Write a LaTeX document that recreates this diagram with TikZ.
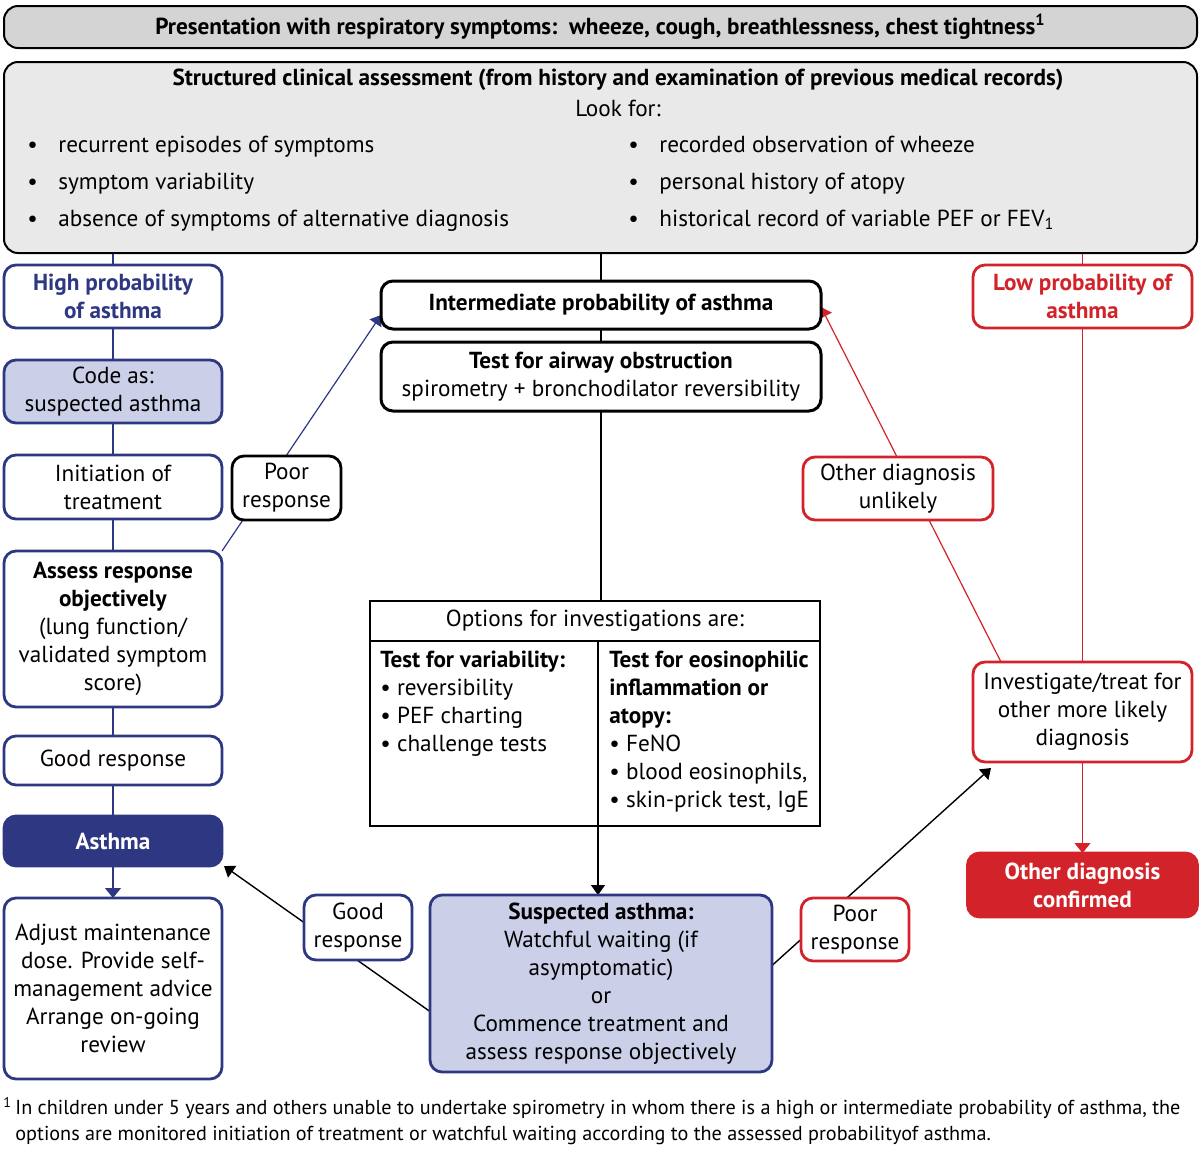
\documentclass[tikz,border=0pt]{standalone}
\usepackage{fontspec}
\setmainfont{PT Sans}
\usetikzlibrary{arrows.meta, positioning, backgrounds}

\definecolor{asthmanavy}{RGB}{46,56,130}
\definecolor{suspectblue}{RGB}{203,207,232}
\definecolor{lowred}{RGB}{210,35,42}
\definecolor{topgray}{RGB}{212,212,212}
\definecolor{assessgray}{RGB}{233,233,233}

\begin{document}
\begin{tikzpicture}[x=0.5pt, y=-0.5pt, node distance=16pt, font=\fontsize{11.6}{14}\selectfont]
    \tikzset{graybox/.style = {rectangle, draw, line width=1pt, rounded corners=7pt, minimum width=596.5pt, outer sep=0pt}}
    \tikzset{navybox/.style = {rectangle, draw=asthmanavy, line width=1.4pt, rounded corners=6pt, fill=white, align=center, inner sep=2pt, outer sep=0pt, minimum width=109pt}}
    \tikzset{blackbox/.style = {navybox, draw=black}}
    \tikzset{redbox/.style = {navybox, draw=lowred}}
    \tikzset{cell/.style = {rectangle, draw, line width=1.1pt, inner sep=0pt, outer sep=0pt}}
    \tikzset{listitem/.style = {anchor=base west, inner sep=0pt}}
    \tikzset{navyline/.style = {draw=asthmanavy, line width=0.6pt}}
    \tikzset{blackline/.style = {draw=black, line width=0.7pt}}
    \tikzset{redline/.style = {draw=lowred, line width=0.6pt}}
    \tikzset{tip/.style = {-{Triangle[width=7pt, length=5pt]}}}

    \useasboundingbox (0,0) rectangle (1200,1148);

    % Top boxes
    \node [graybox, fill=topgray, minimum height=21pt] (present) at (600.5,27)
        {\bfseries Presentation with respiratory symptoms:\ \ wheeze, cough, breathlessness, chest tightness\textsuperscript{1}};
    \node [graybox, fill=assessgray, minimum height=95.5pt] (assessment) at (600.5,157.5) {};
    \node (sctitle) at (618,80) {\bfseries Structured clinical assessment (from history and examination of previous medical records)};
    \node (lookfor) at (618,108) {Look for:};
    \node [listitem] (lookA) at (27,152) {\makebox[15.5pt][l]{\textbullet}recurrent episodes of symptoms};
    \node [listitem] (lookB) at (27,189) {\makebox[15.5pt][l]{\textbullet}symptom variability};
    \node [listitem] (lookC) at (27,226) {\makebox[15.5pt][l]{\textbullet}absence of symptoms of alternative diagnosis};
    \node [listitem] (lookD) at (628,152) {\makebox[15.5pt][l]{\textbullet}recorded observation of wheeze};
    \node [listitem] (lookE) at (628,189) {\makebox[15.5pt][l]{\textbullet}personal history of atopy};
    \node [listitem] (lookF) at (628,226) {\makebox[15.5pt][l]{\textbullet}historical record of variable PEF or FEV\textsubscript{1}};

    % High probability column
    \node [navybox, minimum height=31.5pt, text=asthmanavy, font=\fontsize{11.6}{14}\selectfont\bfseries] (high) at (113,296.5) {High probability\\of asthma};
    \node [navybox, fill=suspectblue, minimum height=31.5pt, below=of high] (code) {Code as:\\suspected asthma};
    \node [navybox, minimum height=32pt, below=of code] (init) {Initiation of\\treatment};
    \node [navybox, minimum height=78pt, below=of init] (response) {\textbf{Assess response}\\\textbf{objectively}\\(lung function/\\validated symptom\\score)};
    \node [navybox, minimum height=24.5pt, below=14.5pt of response] (goodL) {Good response};
    \node [navybox, fill=asthmanavy, text=white, minimum height=25pt, below=15.5pt of goodL, font=\fontsize{11.6}{14}\selectfont\bfseries] (asthma) {Asthma};
    \node [navybox, minimum height=90.5pt, below=of asthma] (adjust) {Adjust maintenance\\dose. Provide self-\\management advice\\Arrange on-going\\review};
    \node [blackbox, minimum width=54.5pt, minimum height=32pt] (poorL) at (286.5,488) {Poor\\response};

    % Intermediate probability column
    \node [blackbox, line width=1.5pt, minimum width=220pt, minimum height=24pt, font=\fontsize{11.6}{14}\selectfont\bfseries] (inter) at (601,305) {Intermediate probability of asthma};
    \node [blackbox, line width=1.5pt, minimum width=220pt, minimum height=34.5pt, below=6.5pt of inter] (airway) {\textbf{Test for airway obstruction}\\spirometry + bronchodilator reversibility};
    \node [cell, minimum width=225pt, minimum height=20pt] (opthead) at (595,621) {Options for investigations are:};
    \node [cell, minimum width=114pt, minimum height=92.5pt, anchor=north west] (optleft) at (370,641) {};
    \node [cell, minimum width=111pt, minimum height=92.5pt, anchor=north west] (optright) at (598,641) {};
    \node [anchor=north west, align=left, inner sep=0pt] (varitext) at (380,651)
        {\textbf{Test for variability:}\\\textbullet\ reversibility\\\textbullet\ PEF charting\\\textbullet\ challenge tests};
    \node [anchor=north west, align=left, inner sep=0pt] (eositext) at (609,651)
        {\textbf{Test for eosinophilic}\\\textbf{inflammation or}\\\textbf{atopy:}\\\textbullet\ FeNO\\\textbullet\ blood eosinophils,\\\textbullet\ skin-prick test, IgE};
    \node [navybox, fill=suspectblue, minimum width=171pt, minimum height=88.5pt] (suspected) at (601,983.5)
        {\textbf{Suspected asthma:}\\Watchful waiting (if\\asymptomatic)\\or\\Commence treatment and\\assess response objectively};
    \node [navybox, minimum width=54pt, minimum height=32.5pt] (goodC) at (358,927.5) {Good\\response};
    \node [redbox, minimum width=54pt, minimum height=31.5pt] (poorR) at (855,929.5) {Poor\\response};

    % Low probability column
    \node [redbox, minimum width=109.5pt, minimum height=31.5pt, text=lowred, font=\fontsize{11.6}{14}\selectfont\bfseries] (low) at (1082.5,296.5) {Low probability of\\asthma};
    \node [redbox, minimum width=95pt, minimum height=31.5pt] (unlikely) at (898,488.5) {Other diagnosis\\unlikely};
    \node [redbox, minimum width=109.5pt, minimum height=50pt] (investigate) at (1082.5,712) {Investigate/treat for\\other more likely\\diagnosis};
    \node [redbox, fill=lowred, text=white, minimum width=115pt, minimum height=32pt, below=45.5pt of investigate, font=\fontsize{11.6}{14}\selectfont\bfseries] (confirmed) {Other diagnosis\\confirmed};

    % Footnote
    \node [anchor=north west, align=left, inner sep=0pt, font=\fontsize{10.1}{13}\selectfont] (footnote) at (15,1097)
        {\llap{\textsuperscript{1}\,}In children under 5 years and others unable to undertake spirometry in whom there is a high or intermediate probability of asthma, the\\options are monitored initiation of treatment or watchful waiting according to the assessed probabilityof asthma.};

    % Connections
    \begin{scope}[on background layer]
        \draw [navyline] (high.north |- assessment.south) -- (high.north);
        \draw [navyline] (high) -- (code);
        \draw [navyline] (code) -- (init);
        \draw [navyline] (init) -- (response);
        \draw [navyline] (response) -- (goodL);
        \draw [navyline] (goodL) -- (asthma);
        \draw [navyline, -{Triangle[width=8pt, length=5pt]}] (asthma) -- (adjust);
        \draw [navyline, tip] (response.north east) -- ([yshift=-5pt]inter.west);
        \draw [blackline] (inter.north |- assessment.south) -- (inter.north);
        \draw [blackline] (inter) -- (airway);
        \draw [blackline] (airway.south) -- (airway.south |- opthead.north);
        \draw [blackline, tip] (optleft.south east) -- (optleft.south east |- suspected.north);
        \draw [blackline, tip] ([yshift=-14pt]suspected.west) -- ([xshift=1pt]asthma.south east);
        \draw [blackline, tip] ([yshift=9pt]suspected.east) -- ([xshift=9pt, yshift=-3pt]investigate.south west);
        \draw [redline] (low.north |- assessment.south) -- (low.north);
        \draw [redline] (low) -- (investigate);
        \draw [redline, -{Triangle[width=8pt, length=5pt]}] (investigate) -- (confirmed);
        \draw [redline, tip] ([xshift=14pt]investigate.north west) -- ([yshift=-1pt]inter.east);
    \end{scope}
\end{tikzpicture}
\end{document}
